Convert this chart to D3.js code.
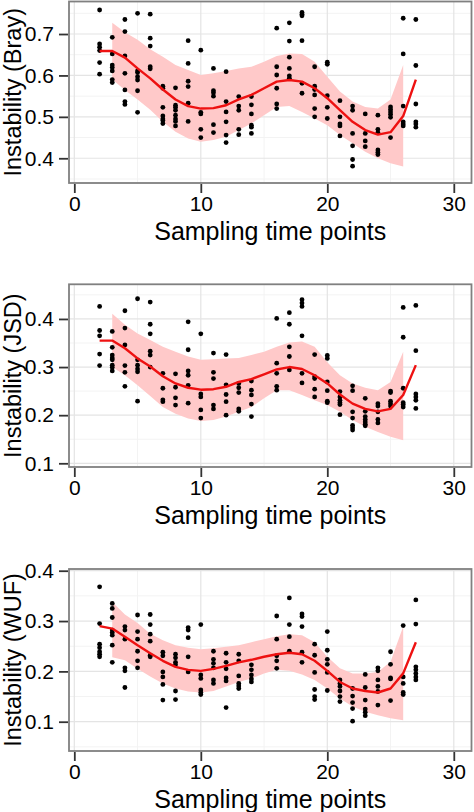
<!DOCTYPE html>
<html>
<head>
<meta charset="utf-8">
<script src="https://cdn.jsdelivr.net/npm/d3@7"></script>
<style>
  html, body { margin: 0; padding: 0; background: #fff; }
  svg { display: block; font-family: "Liberation Sans", Arial, Helvetica, sans-serif; }
</style>
</head>
<body>
<svg id="chart" width="474" height="812"></svg>
<script>
// ---------------- DATA ----------------
const timePoints = [2,3,4,5,6,7,8,9,10,11,12,13,14,16,17,18,19,20,21,22,23,24,25,26,27];
const fitX = [2,3,4,5,6,7,8,9,10,11,12,13,14,15,16,17,18,19,20,21,22,23,24,25,26,27];
const bandX = [3,4,5,6,7,8,9,10,11,12,13,14,15,16,17,18,19,20,21,22,23,24,25,26];
const xTickLabels = [0, 10, 20, 30];
const xMinorTicks = [5, 15, 25];
const xAxisTitle = "Sampling time points";

const brayValues = [
  [0.758,0.676,0.668,0.660,0.631,0.603],
  [0.692,0.652,0.625,0.619,0.611,0.590,0.583],
  [0.735,0.706,0.647,0.605,0.565,0.537,0.530],
  [0.750,0.611,0.607,0.597,0.589,0.563,0.511],
  [0.748,0.690,0.671,0.621,0.616],
  [0.574,0.569,0.523,0.502,0.495,0.491,0.484],
  [0.570,0.528,0.523,0.516,0.504,0.495,0.489,0.478],
  [0.684,0.629,0.586,0.573,0.533,0.489],
  [0.661,0.511,0.507,0.470,0.450],
  [0.617,0.563,0.558,0.550,0.481,0.462],
  [0.609,0.537,0.512,0.488,0.456,0.438],
  [0.549,0.526,0.516,0.470,0.457],
  [0.549,0.529,0.507,0.480,0.475,0.460],
  [0.714,0.621,0.601,0.569,0.531,0.520],
  [0.727,0.683,0.644,0.617,0.599,0.593],
  [0.752,0.748,0.744,0.684,0.581,0.557],
  [0.621,0.574,0.566,0.553,0.520,0.500],
  [0.632,0.627,0.551,0.523,0.496],
  [0.539,0.500,0.483,0.478,0.454],
  [0.526,0.516,0.460,0.430,0.397,0.381],
  [0.507,0.460,0.442,0.428],
  [0.504,0.470,0.462,0.420,0.414,0.409],
  [0.524,0.518,0.512,0.506,0.499,0.450],
  [0.738,0.652,0.526,0.488,0.483,0.478],
  [0.735,0.624,0.531,0.488,0.483,0.475]
];
const brayFit = [0.659,0.659,0.643,0.617,0.593,0.566,0.542,0.526,0.520,0.521,0.528,0.542,0.553,0.569,0.585,0.589,0.585,0.569,0.545,0.516,0.488,0.468,0.457,0.463,0.502,0.590];
const brayUpper = [0.727,0.704,0.686,0.663,0.645,0.625,0.613,0.601,0.605,0.611,0.617,0.621,0.633,0.647,0.653,0.652,0.633,0.597,0.561,0.537,0.524,0.520,0.542,0.625];
const brayLower = [0.590,0.565,0.542,0.517,0.488,0.464,0.448,0.440,0.444,0.452,0.468,0.484,0.504,0.524,0.526,0.512,0.496,0.480,0.456,0.436,0.416,0.400,0.388,0.380];
const brayTicks = [0.4, 0.5, 0.6, 0.7];
const brayMinor = [0.35, 0.45, 0.55, 0.65, 0.75];

const jsdValues = [
  [0.426,0.376,0.365,0.327,0.303],
  [0.374,0.341,0.325,0.319,0.315,0.304,0.299,0.292],
  [0.417,0.381,0.346,0.303,0.289,0.260],
  [0.442,0.315,0.304,0.296,0.290,0.229],
  [0.435,0.389,0.369,0.333,0.325,0.300],
  [0.287,0.256,0.232,0.228],
  [0.286,0.258,0.236,0.221],
  [0.394,0.336,0.292,0.283,0.262,0.225],
  [0.369,0.244,0.238,0.211,0.194],
  [0.329,0.289,0.276,0.221,0.213],
  [0.326,0.263,0.243,0.228,0.200],
  [0.266,0.257,0.247,0.213,0.208],
  [0.271,0.252,0.242,0.223,0.197],
  [0.401,0.308,0.287,0.260,0.252],
  [0.413,0.389,0.342,0.322,0.294],
  [0.440,0.433,0.426,0.365,0.287,0.267],
  [0.326,0.280,0.276,0.254,0.238],
  [0.324,0.318,0.269,0.251,0.229,0.226],
  [0.249,0.238,0.231,0.226,0.222,0.201],
  [0.261,0.251,0.207,0.194,0.179,0.174,0.169],
  [0.235,0.208,0.197,0.191,0.186,0.181,0.178],
  [0.224,0.219,0.207,0.191,0.184],
  [0.250,0.247,0.229,0.224,0.219],
  [0.424,0.362,0.256,0.226,0.222,0.217],
  [0.428,0.334,0.244,0.238,0.231,0.214]
];
const jsdFit = [0.355,0.355,0.339,0.318,0.301,0.281,0.266,0.257,0.253,0.254,0.259,0.269,0.275,0.285,0.295,0.300,0.296,0.283,0.266,0.243,0.224,0.213,0.208,0.213,0.242,0.304];
const jsdUpper = [0.411,0.388,0.370,0.356,0.342,0.332,0.322,0.315,0.316,0.318,0.319,0.325,0.332,0.342,0.351,0.353,0.342,0.310,0.283,0.266,0.257,0.252,0.269,0.332];
const jsdLower = [0.300,0.283,0.262,0.240,0.217,0.203,0.193,0.188,0.190,0.197,0.207,0.217,0.235,0.252,0.252,0.242,0.231,0.221,0.207,0.190,0.176,0.165,0.155,0.148];
const jsdTicks = [0.1, 0.2, 0.3, 0.4];
const jsdMinor = [0.15, 0.25, 0.35, 0.45];

const wufValues = [
  [0.368,0.295,0.254,0.247,0.239,0.234,0.229],
  [0.335,0.325,0.307,0.282,0.277,0.272,0.252,0.218],
  [0.289,0.282,0.264,0.207,0.201,0.168],
  [0.312,0.279,0.264,0.240,0.221,0.207],
  [0.313,0.293,0.274,0.260,0.232,0.229],
  [0.238,0.231,0.199,0.189,0.174,0.143],
  [0.234,0.227,0.218,0.213,0.161,0.144],
  [0.287,0.282,0.267,0.229,0.199],
  [0.293,0.193,0.186,0.163,0.158,0.154],
  [0.240,0.224,0.216,0.207,0.183,0.176],
  [0.236,0.218,0.205,0.187,0.181,0.128],
  [0.234,0.221,0.191,0.176,0.171,0.166],
  [0.213,0.203,0.193,0.185,0.179],
  [0.310,0.264,0.231,0.221,0.206],
  [0.346,0.293,0.269,0.240],
  [0.314,0.309,0.289,0.238,0.218],
  [0.254,0.232,0.198,0.164,0.150,0.144],
  [0.279,0.242,0.224,0.214,0.198,0.162],
  [0.183,0.176,0.170,0.161,0.150,0.140],
  [0.166,0.151,0.138,0.126,0.101],
  [0.194,0.168,0.143,0.125,0.119,0.112],
  [0.207,0.201,0.183,0.170,0.160,0.133],
  [0.239,0.214,0.187,0.185,0.142],
  [0.291,0.189,0.176,0.158,0.154],
  [0.342,0.294,0.209,0.203,0.196,0.189,0.183]
];
const wufFit = [0.290,0.285,0.269,0.252,0.236,0.221,0.209,0.203,0.201,0.205,0.211,0.218,0.223,0.229,0.234,0.237,0.234,0.221,0.201,0.179,0.166,0.161,0.158,0.166,0.196,0.258];
const wufUpper = [0.338,0.313,0.296,0.275,0.262,0.252,0.247,0.244,0.246,0.249,0.252,0.258,0.264,0.270,0.274,0.272,0.258,0.229,0.206,0.196,0.196,0.199,0.219,0.289];
const wufLower = [0.228,0.222,0.205,0.190,0.176,0.166,0.160,0.158,0.161,0.170,0.179,0.186,0.196,0.203,0.201,0.194,0.183,0.166,0.146,0.130,0.120,0.113,0.107,0.103];
const wufTicks = [0.1, 0.2, 0.3, 0.4];
const wufMinor = [0.05, 0.15, 0.25, 0.35];

const panels = [
  { label: "Instability (Bray)", values: brayValues, fit: brayFit, upper: brayUpper, lower: brayLower,
    ticks: brayTicks, minor: brayMinor, domain: [0.3403, 0.7785], top: 1.5, bottom: 183 },
  { label: "Instability (JSD)", values: jsdValues, fit: jsdFit, upper: jsdUpper, lower: jsdLower,
    ticks: jsdTicks, minor: jsdMinor, domain: [0.0923, 0.472], top: 284.3, bottom: 467 },
  { label: "Instability (WUF)", values: wufValues, fit: wufFit, upper: wufUpper, lower: wufLower,
    ticks: wufTicks, minor: wufMinor, domain: [0.0418, 0.4034], top: 569, bottom: 751 }
];

// ---------------- DRAW ----------------
const svg = d3.select("#chart");
svg.append("rect").attr("width", 474).attr("height", 812).attr("fill", "#fff");

const plotLeft = 69, plotRight = 471.5;
const x = d3.scaleLinear().domain([-0.42, 31.4]).range([plotLeft, plotRight]);

const fmt = d3.format(".1f");

panels.forEach(p => {
  const y = d3.scaleLinear().domain(p.domain).range([p.bottom, p.top]);
  const g = svg.append("g");

  // background
  g.append("rect").attr("x", plotLeft).attr("y", p.top)
    .attr("width", plotRight - plotLeft).attr("height", p.bottom - p.top).attr("fill", "#fff");

  // minor grid
  g.selectAll(".minx").data(xMinorTicks).join("line")
    .attr("x1", d => x(d)).attr("x2", d => x(d)).attr("y1", p.top).attr("y2", p.bottom)
    .attr("stroke", "#f3f3f3").attr("stroke-width", 1);
  g.selectAll(".miny").data(p.minor.filter(v => v > p.domain[0] && v < p.domain[1])).join("line")
    .attr("x1", plotLeft).attr("x2", plotRight).attr("y1", d => y(d)).attr("y2", d => y(d))
    .attr("stroke", "#f3f3f3").attr("stroke-width", 1);
  // major grid
  g.selectAll(".majx").data(xTickLabels).join("line")
    .attr("x1", d => x(d)).attr("x2", d => x(d)).attr("y1", p.top).attr("y2", p.bottom)
    .attr("stroke", "#e4e4e4").attr("stroke-width", 1.2);
  g.selectAll(".majy").data(p.ticks).join("line")
    .attr("x1", plotLeft).attr("x2", plotRight).attr("y1", d => y(d)).attr("y2", d => y(d))
    .attr("stroke", "#e4e4e4").attr("stroke-width", 1.2);

  // ribbon
  const band = bandX.map((t, i) => ({ t, lo: p.lower[i], hi: p.upper[i] }));
  g.append("path").datum(band)
    .attr("d", d3.area().x(d => x(d.t)).y0(d => y(d.lo)).y1(d => y(d.hi)))
    .attr("fill", "#ffc9c9");

  // points
  const pts = [];
  timePoints.forEach((t, i) => p.values[i].forEach(v => pts.push({ t, v })));
  g.selectAll(".pt").data(pts).join("circle")
    .attr("cx", d => x(d.t)).attr("cy", d => y(d.v)).attr("r", 2.4).attr("fill", "#000");

  // fit line
  const fitPts = fitX.map((t, i) => ({ t, v: p.fit[i] }));
  g.append("path").datum(fitPts)
    .attr("d", d3.line().x(d => x(d.t)).y(d => y(d.v)))
    .attr("fill", "none").attr("stroke", "#ee1111").attr("stroke-width", 2.4)
    .attr("stroke-linejoin", "round");

  // border
  g.append("rect").attr("x", plotLeft).attr("y", p.top)
    .attr("width", plotRight - plotLeft).attr("height", p.bottom - p.top)
    .attr("fill", "none").attr("stroke", "#808080").attr("stroke-width", 1.8);

  // y axis ticks + labels
  const yAxis = d3.axisLeft(y).tickValues(p.ticks).tickFormat(fmt).tickSize(9).tickPadding(5);
  const ya = svg.append("g").attr("transform", `translate(${plotLeft - 1},0)`).call(yAxis);
  ya.select(".domain").remove();
  ya.selectAll(".tick line").attr("stroke", "#333").attr("stroke-width", 1.8);
  ya.selectAll(".tick text").attr("fill", "#000").attr("font-size", 21)
    .attr("font-family", "Liberation Sans, Arial, sans-serif");

  // x axis ticks + labels
  const xAxis = d3.axisBottom(x).tickValues(xTickLabels).tickFormat(d3.format("d")).tickSize(9).tickPadding(3);
  const xa = svg.append("g").attr("transform", `translate(0,${p.bottom + 1})`).call(xAxis);
  xa.select(".domain").remove();
  xa.selectAll(".tick line").attr("stroke", "#333").attr("stroke-width", 1.8);
  xa.selectAll(".tick text").attr("fill", "#000").attr("font-size", 21)
    .attr("font-family", "Liberation Sans, Arial, sans-serif");

  // x title
  svg.append("text").attr("x", (plotLeft + plotRight) / 2).attr("y", p.bottom + 57)
    .attr("text-anchor", "middle").attr("font-size", 25).attr("fill", "#000").text(xAxisTitle);

  // y title
  svg.append("text")
    .attr("transform", `translate(21.3,${(p.top + p.bottom) / 2}) rotate(-90)`)
    .attr("text-anchor", "middle").attr("font-size", 23.5).attr("fill", "#000").text(p.label);
});
</script>
</body>
</html>
